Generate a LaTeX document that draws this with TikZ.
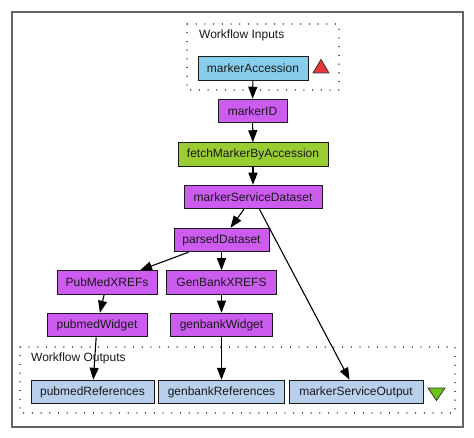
\documentclass[tikz,border=0pt]{standalone}
\usepackage{fontspec}
\setmainfont{Liberation Sans}
\usetikzlibrary{arrows.meta}
\definecolor{inblue}{HTML}{87CEEB}
\definecolor{procpurple}{HTML}{CC5CF0}
\definecolor{svcgreen}{HTML}{9ACD32}
\definecolor{outblue}{HTML}{B8D0EC}
\definecolor{trired}{HTML}{E8383A}
\definecolor{trigreen}{HTML}{6CC416}
\tikzset{
  box/.style={draw=black!90, line width=1pt, inner sep=0pt, minimum height=23.5pt,
    font=\fontsize{12}{14}\selectfont, text=black!90},
  inbox/.style={box, fill=inblue},
  procbox/.style={box, fill=procpurple},
  svcbox/.style={box, fill=svcgreen},
  outbox/.style={box, fill=outblue},
  edge/.style={draw=black, line width=1.1pt, -{Triangle[length=12pt,width=9pt]}},
  cluster/.style={draw=black!75, line width=1.3pt, dash pattern=on 0.01pt off 8.7pt, line cap=round},
  clusterlabel/.style={anchor=west, inner sep=0pt, font=\fontsize{12}{14}\selectfont, text=black!90},
}
\begin{document}
\begin{tikzpicture}[x=1pt,y=-1pt]
\useasboundingbox (0,0) rectangle (474,438);
\fill[white] (0,0) rectangle (474,438);
\draw[draw=black!60, line width=1.6pt] (12,12) rectangle (463,427);
% clusters
\draw[cluster] (187,24) rectangle (339,90);
\node[clusterlabel] (inlabel) at (199,35) {Workflow Inputs};
\draw[cluster] (20,347) rectangle (455,413);
\node[clusterlabel] (outlabel) at (31,358) {Workflow Outputs};
% nodes
\node[inbox, minimum width=110pt] (acc) at (253,68.5) {markerAccession};
\node[procbox, minimum width=69pt] (mid) at (252.5,111) {markerID};
\node[svcbox, minimum width=150pt] (fetch) at (253,154.5) {fetchMarkerByAccession};
\node[procbox, minimum width=138pt] (msd) at (253,197) {markerServiceDataset};
\node[procbox, minimum width=95pt] (pds) at (221.5,240) {parsedDataset};
\node[procbox, minimum width=100pt] (pmx) at (107,282.5) {PubMedXREFs};
\node[procbox, minimum width=110pt] (gbx) at (221.5,282.5) {GenBankXREFS};
\node[procbox, minimum width=102pt] (gbw) at (221.5,325) {genbankWidget};
\node[procbox, minimum width=100pt] (pmw) at (97,325) {pubmedWidget};
\node[outbox, minimum width=123pt] (pmr) at (92.5,392) {pubmedReferences};
\node[outbox, minimum width=126pt] (gbr) at (221.5,392) {genbankReferences};
\node[outbox, minimum width=134pt] (mso) at (356,392) {markerServiceOutput};
% triangles
\fill[trired, draw=black!80, line width=0.8pt] (313,73) -- (321,59.5) -- (329,73) -- cycle;
\fill[trigreen, draw=black!80, line width=0.8pt] (428,388) -- (445,388) -- (436.5,400.5) -- cycle;
% edges
\draw[edge] (acc) -- (mid);
\draw[edge] (mid) -- (fetch);
\draw[edge] (fetch) -- (msd);
\draw[edge] (msd) -- (pds);
\draw[edge] (msd) -- (mso);
\draw[edge] (pds) -- (pmx);
\draw[edge] (pds) -- (gbx);
\draw[edge] (pmx) -- (pmw);
\draw[edge] (gbx) -- (gbw);
\draw[edge] (pmw) -- (pmr);
\draw[edge] (gbw) -- (gbr);
\end{tikzpicture}
\end{document}
